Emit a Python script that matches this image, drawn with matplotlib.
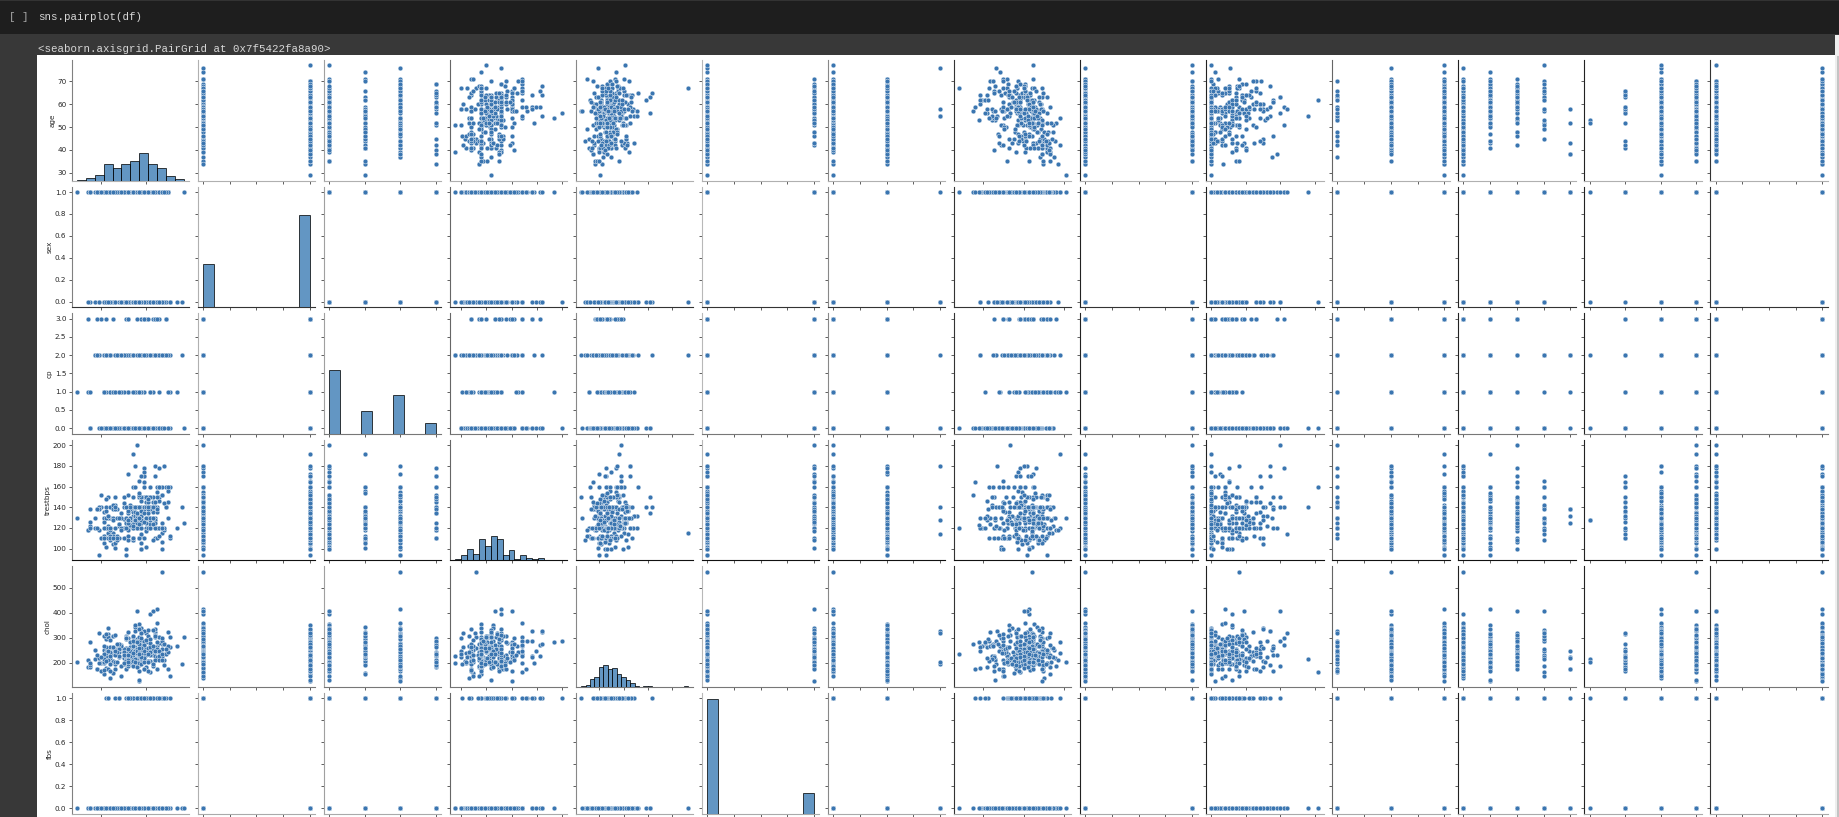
import numpy as np
import matplotlib
matplotlib.use("Agg")
import matplotlib.pyplot as plt
from matplotlib.patches import Rectangle

W, H = 1840, 817

age = [63,37,41,56,57,57,56,44,52,57,54,48,49,64,58,50,58,66,43,69,
       59,44,42,61,40,71,59,51,65,53,41,65,44,54,51,46,54,54,65,65,
       51,48,45,53,39,52,44,47,53,53,51,66,62,44,63,52,48,45,34,57,
       71,54,52,41,58,35,51,45,44,62,54,51,29,51,43,55,51,59,52,58,
       41,45,60,52,42,67,68,46,54,58,48,57,52,54,45,53,62,52,43,53,
       42,59,63,42,50,68,69,45,50,50,64,57,64,43,55,37,41,56,46,46,
       64,59,41,54,39,34,47,67,52,74,54,49,42,41,41,49,60,62,57,64,
       51,43,42,67,76,70,44,60,44,42,66,71,64,66,39,58,47,35,58,56,
       56,55,41,38,38,67,67,62,63,53,56,48,58,58,60,40,60,64,43,57,
       55,65,61,58,50,44,60,54,50,41,51,58,54,60,60,59,46,67,62,65,
       44,60,58,68,62,52,59,60,49,59,57,61,39,61,56,43,62,63,65,48,
       63,55,65,56,54,70,62,35,59,64,47,57,55,64,70,51,58,60,77,35,
       70,59,64,57,56,48,56,66,54,69,51,43,62,67,59,45,58,50,62,38,
       66,52,53,63,54,66,55,49,54,56,46,61,67,58,47,52,58,57,58,61,
       42,52,59,40,61,46,59,57,57,55,61,58,58,67,44,63,63,59,57,45,
       68,57,57]
sex = [1,1,0,1,0,1,0,1,1,1,1,0,1,1,0,0,0,0,1,0,
       1,1,1,1,1,0,1,1,0,1,0,1,1,1,1,0,0,1,0,0,
       0,1,1,0,1,1,1,1,0,0,0,1,1,0,0,1,1,1,1,0,
       0,1,1,1,1,0,1,0,1,0,1,1,1,1,0,0,1,1,1,1,
       1,1,0,1,0,0,1,1,0,0,1,1,1,0,0,1,0,1,1,1,
       1,1,0,1,1,0,1,0,0,0,0,1,0,1,1,0,1,1,0,0,
       0,1,0,0,0,0,1,0,0,0,0,0,1,1,0,0,0,1,1,1,
       0,1,0,0,0,1,0,0,1,1,1,0,1,0,0,0,1,1,1,1,
       1,0,1,1,1,1,1,0,1,1,1,1,1,1,1,1,1,1,1,1,
       1,0,0,1,1,1,1,1,1,1,0,1,1,1,1,1,1,1,1,1,
       1,1,1,1,0,1,1,0,1,1,1,1,1,0,1,0,0,1,1,1,
       0,1,1,0,1,1,1,1,1,1,1,1,1,1,1,1,1,1,1,1,
       1,0,1,1,1,1,0,1,1,1,1,1,0,1,1,1,1,1,0,1,
       0,1,1,0,1,1,0,1,1,1,1,1,1,1,1,1,1,1,0,1,
       1,1,1,1,1,1,1,1,1,0,1,1,0,1,1,1,0,1,0,1,
       1,1,0]
cp = [3,2,1,1,0,0,1,1,2,2,0,2,1,3,3,2,2,3,0,3,
      0,2,0,2,3,1,2,2,2,2,1,0,1,2,3,2,2,2,2,2,
      2,1,0,0,2,1,2,2,2,0,2,0,2,2,2,1,0,0,3,0,
      2,1,3,1,2,0,2,1,1,0,2,2,1,0,2,1,2,1,1,2,
      2,1,2,3,0,2,2,1,2,0,2,0,2,1,1,0,0,0,2,2,
      3,3,1,2,2,2,3,0,1,0,0,2,2,0,1,2,2,3,1,0,
      0,0,2,2,2,1,0,2,2,1,2,1,1,1,1,0,2,1,0,0,
      2,0,2,0,2,1,2,3,2,2,0,0,3,2,2,0,2,1,1,1,
      1,1,1,2,2,0,0,0,0,0,2,1,1,2,0,0,0,2,0,0,
      0,0,0,2,0,0,0,0,2,0,0,0,0,0,2,0,2,0,0,0,
      0,0,0,2,0,0,0,0,2,0,2,0,0,0,0,0,2,0,0,0,
      0,0,3,0,0,0,1,0,3,2,2,0,0,0,0,0,0,0,0,0,
      2,0,0,0,0,0,0,1,1,2,0,0,0,0,3,0,0,0,0,3,
      0,0,0,0,0,0,0,2,0,0,0,3,0,0,0,0,0,1,1,0,
      0,0,2,0,0,0,3,1,0,0,0,0,0,2,0,0,0,0,0,3,
      0,0,1]
trestbps = [145,130,130,120,120,140,140,120,172,150,140,130,130,110,150,120,120,150,150,140,
            135,130,140,150,140,160,150,110,140,130,105,120,130,125,125,142,135,150,155,160,
            140,130,104,130,140,120,140,138,128,138,130,120,130,108,135,134,122,115,118,128,
            110,108,118,135,140,138,100,130,120,124,120,94,130,140,122,135,125,140,128,105,
            112,128,102,152,102,115,118,101,110,100,124,132,138,132,112,142,140,108,130,130,
            148,178,140,120,129,120,160,138,120,110,180,150,140,110,130,120,130,120,105,138,
            130,138,112,108,94,118,112,152,136,120,160,134,120,110,126,130,120,128,110,128,
            120,115,120,106,140,156,118,150,120,130,160,112,170,146,138,130,130,122,125,130,
            120,132,120,138,138,160,120,140,130,140,130,110,120,132,130,110,117,140,120,150,
            132,150,130,112,150,112,130,124,140,110,130,128,120,145,140,170,150,125,120,110,
            110,125,150,180,160,128,110,150,120,140,128,120,118,145,125,132,130,130,135,130,
            150,140,138,200,110,145,120,120,170,125,108,165,160,120,130,140,125,140,125,126,
            160,174,145,152,132,124,134,160,192,140,140,132,138,100,160,142,128,144,150,120,
            178,112,123,108,110,112,180,118,122,130,120,134,120,100,110,125,146,124,136,138,
            136,128,126,152,140,140,134,154,110,128,148,114,170,152,120,140,124,164,140,110,
            144,130,130]
chol = [233,250,204,236,354,192,294,263,199,168,239,275,266,211,283,219,340,226,247,239,
        234,233,226,243,199,302,212,175,417,197,198,177,219,273,213,177,304,232,269,360,
        308,245,208,264,321,325,235,257,216,234,256,302,231,141,252,201,222,260,182,303,
        265,309,186,203,211,183,222,234,220,209,258,227,204,261,213,250,245,221,205,240,
        250,308,318,298,265,564,277,197,214,248,255,207,223,288,160,226,394,233,315,246,
        244,270,195,240,196,211,234,236,244,254,325,126,313,211,262,215,214,193,204,243,
        303,271,268,267,199,210,204,277,196,269,201,271,295,235,306,269,178,208,201,263,
        295,303,209,223,197,245,242,240,226,180,228,149,227,278,220,197,253,192,220,221,
        240,342,157,175,175,286,229,268,254,203,256,229,284,224,206,167,230,335,177,276,
        353,225,330,230,243,290,253,266,233,172,305,216,188,282,185,326,231,254,267,248,
        197,258,270,274,164,255,239,258,188,177,229,260,219,307,249,341,263,330,254,256,
        407,217,282,288,239,174,281,198,288,309,243,289,289,246,322,299,300,293,304,282,
        269,249,212,274,184,274,409,246,283,254,298,247,294,299,273,309,259,200,244,231,
        228,230,282,269,206,212,327,149,286,283,249,234,237,234,275,212,218,261,319,166,
        315,204,218,223,207,311,204,232,335,205,203,318,225,212,169,187,197,176,241,264,
        193,131,236]
fbs = [1,0,0,0,0,0,0,0,1,0,0,0,0,0,1,0,0,0,0,0,
       0,0,0,1,0,0,1,0,1,1,0,0,0,0,0,0,1,0,0,0,
       0,0,0,0,0,0,0,0,0,0,0,0,0,0,0,0,0,0,0,0,
       1,0,0,0,1,0,0,0,0,0,0,0,0,0,0,0,1,0,1,0,
       0,0,0,1,0,0,0,1,0,0,1,0,0,1,0,0,0,1,0,1,
       0,0,0,1,0,0,1,0,0,0,0,1,0,0,0,0,0,0,0,0,
       0,0,0,0,0,0,0,0,0,0,0,0,0,0,0,0,1,1,0,0,
       0,0,0,0,0,0,0,0,0,0,0,0,0,0,0,0,0,0,0,0,
       0,0,0,0,0,0,0,0,0,1,1,0,0,0,0,0,1,0,0,0,
       0,0,0,0,0,0,0,0,0,0,0,0,0,0,0,0,0,1,0,0,
       0,0,0,1,0,0,0,0,0,0,0,0,0,0,1,1,0,1,0,1,
       0,0,1,1,0,0,0,0,0,0,0,1,0,0,0,0,0,0,0,0,
       0,0,0,0,0,0,0,0,0,0,0,1,1,0,0,0,0,0,0,0,
       1,0,0,0,0,0,0,0,0,1,0,0,0,0,0,0,0,0,1,0,
       0,1,1,0,0,0,0,0,0,0,0,0,1,0,0,0,0,1,0,0,
       1,0,0]
restecg = [0,1,0,1,1,1,0,1,1,1,1,1,1,0,0,1,1,1,1,1,
           1,1,1,1,1,1,1,1,0,0,1,1,0,0,0,0,1,0,1,0,
           0,0,0,0,0,1,0,0,0,0,0,0,1,1,0,1,0,0,0,0,
           0,1,0,1,0,1,1,0,1,1,0,1,0,0,1,0,0,1,1,0,
           1,0,1,1,0,0,1,1,1,0,1,1,1,0,1,0,0,1,1,0,
           0,0,1,1,1,0,0,0,1,0,1,1,1,1,1,1,0,0,1,0,
           1,0,0,0,1,1,1,1,0,0,1,1,1,1,1,1,1,0,1,1,
           0,1,1,1,2,0,1,1,1,1,0,1,0,0,1,1,1,1,1,0,
           1,1,1,1,1,0,0,0,0,0,0,1,0,0,0,0,1,1,0,0,
           1,0,0,0,0,0,1,0,1,0,1,0,1,0,0,0,1,1,1,0,
           0,0,0,0,0,1,0,0,1,1,0,1,1,0,0,0,1,0,0,0,
           0,1,0,0,1,1,0,1,0,1,1,0,0,0,0,1,0,0,0,0,
           1,1,0,1,0,0,0,1,0,0,1,0,1,0,0,0,0,0,1,1,
           1,1,1,1,0,0,2,0,0,0,0,1,1,1,0,1,1,1,0,0,
           1,1,1,1,0,1,1,0,1,2,1,2,0,0,1,0,1,0,1,1,
           1,1,0]
thalach = [150,187,172,178,163,148,153,173,162,174,160,139,171,144,162,158,172,114,171,151,
           161,179,178,137,178,162,157,123,157,152,168,140,188,152,125,160,170,165,148,151,
           142,180,148,143,182,172,180,156,115,160,149,151,146,175,172,158,186,185,174,159,
           130,156,190,132,165,182,143,175,170,163,147,154,202,186,165,161,166,164,184,154,
           179,170,160,178,122,160,151,156,158,122,175,168,169,159,138,111,157,147,162,173,
           178,145,179,194,163,115,131,152,162,159,154,173,133,161,155,170,168,162,172,152,
           122,182,172,167,179,192,143,172,169,121,163,162,162,153,163,163,96,140,126,105,
           157,181,173,142,116,143,149,171,169,150,138,125,155,152,152,131,179,174,144,163,
           169,166,182,173,173,108,129,160,147,155,142,168,160,173,132,114,160,158,120,112,
           132,114,169,165,128,153,144,109,163,158,142,131,113,142,155,140,147,163,99,158,
           177,141,111,150,145,161,142,157,139,162,150,140,140,146,144,136,97,132,127,150,
           154,111,174,133,126,125,103,130,159,131,152,124,145,96,109,173,171,170,162,156,
           112,143,132,88,105,166,150,120,195,146,122,143,106,125,125,147,130,126,154,182,
           165,160,95,169,108,132,117,126,116,103,144,145,71,156,118,168,105,141,152,125,
           125,156,134,181,138,120,162,164,143,130,161,140,146,150,144,144,136,90,123,132,
           141,115,174]
exang = [0,0,0,0,1,0,0,0,0,0,0,0,0,1,0,0,0,0,0,0,
         0,1,0,1,1,0,0,0,0,0,0,0,0,0,1,1,0,0,0,0,
         0,0,1,0,0,0,0,0,0,0,0,0,0,0,0,0,0,0,0,0,
         0,0,0,0,0,0,1,0,0,0,0,1,0,1,0,0,0,1,0,1,
         0,0,0,0,0,0,0,0,0,0,0,1,0,1,0,1,0,0,0,0,
         0,0,0,0,0,0,0,1,0,0,1,0,0,0,0,0,0,0,0,1,
         0,0,1,0,0,0,0,0,0,1,0,0,0,0,0,0,0,0,1,1,
         0,0,0,0,0,0,0,0,0,0,0,0,0,0,0,0,0,0,0,0,
         0,0,0,0,0,1,1,0,0,1,1,0,0,0,1,1,1,0,1,1,
         1,0,0,0,0,0,1,1,0,0,1,1,0,1,0,1,0,0,1,0,
         0,1,1,1,0,1,1,0,0,1,0,1,0,1,1,1,0,1,0,1,
         0,1,0,1,1,1,0,1,0,1,0,0,1,1,0,1,0,0,1,1,
         1,1,0,1,1,0,1,1,0,0,1,1,0,1,0,1,1,1,1,1,
         1,0,1,1,1,1,1,0,1,1,0,0,0,0,1,0,0,0,0,1,
         1,1,0,0,1,1,0,0,1,1,0,0,1,0,1,1,1,0,1,0,
         0,1,0]
oldpeak = [2.3,3.5,1.4,0.8,0.6,0.4,1.3,0,0.5,1.6,1.2,0.2,0.6,1.8,1,1.6,0,2.6,1.5,1.8,
           0.5,0.4,0,1,1.4,0.4,1.6,0.6,0.8,1.2,0,0.4,0,0.5,1.4,1.4,0,1.6,0.8,0.8,
           1.5,0.2,3,0.4,0,0.2,0,0,0,0,0.5,0.4,1.8,0.6,0,0.8,0,0,0,0,
           0,0,0,0,0,1.4,1.2,0.6,0,0,0.4,0,0,0,0.2,1.4,2.4,0,0,0.6,
           0,0,0,1.2,0.6,1.6,1,0,1.6,1,0,0,0,0,0,0,1.2,0.1,1.9,0,
           0.8,4.2,0,0.8,0,1.5,0.1,0.2,1.1,0,0,0.2,0.2,0,0,0,2,1.9,0,0,
           2,0,0,0,0,0.7,0.1,0,0.1,0.2,0,0,0,0,0,0,0,0,1.5,0.2,
           0.6,1.2,0,0.3,1.1,0,0.3,0.9,0,0,2.3,1.6,0.6,0,0,0.6,0,0,0.4,0,
           0,1.2,0,0,0,1.5,2.6,3.6,1.4,3.1,0.6,1,1.8,3.2,2.4,2,1.4,0,2.5,0.6,
           1.2,1,0,2.5,2.6,0,1.4,2.2,0.6,0,1.2,2.2,1.4,2.8,3,3.4,3.6,0.2,1.8,0.6,
           0,2.8,0.8,1.6,6.2,0,1.2,2.6,2,0,0.4,3.6,1.2,1,1.2,3,1.2,1.8,2.8,0,
           4,5.6,1.4,4,2.8,2.6,1.4,1.6,0.2,1.8,0,1,0.8,2.2,2.4,1.6,0,1.2,0,0,
           2.9,0,2,1.2,2.1,0.5,1.9,0,0,2,4.2,0.1,1.9,0.9,0,0,3,0.9,1.4,3.8,
           1,0,2,1.8,0,0.1,3.4,0.8,3.2,1.6,0.8,2.6,1,0.1,1,1,2,0.3,0,3.6,
           1.8,1,2.2,0,1.9,1.8,0.8,0,3,2,0,4.4,2.8,0.8,2.8,4,0,1,0.2,1.2,
           3.4,1.2,0]
slope = [0,0,2,2,2,1,1,2,2,2,2,2,2,1,2,1,2,0,2,2,
         1,2,2,1,2,2,2,2,2,0,2,2,2,0,2,0,2,2,2,2,
         2,1,1,1,2,2,2,2,2,2,2,1,1,1,2,2,2,2,2,2,
         2,2,1,1,2,2,1,1,2,2,1,2,2,2,1,1,1,2,2,1,
         2,2,2,1,1,1,2,2,1,1,2,2,2,2,1,2,1,2,2,2,
         2,0,2,0,2,1,1,1,2,2,2,2,2,2,2,2,1,1,2,1,
         1,2,2,2,2,2,2,2,1,2,2,1,2,2,2,2,2,2,1,1,
         2,1,1,2,1,2,1,2,2,2,2,1,1,1,1,1,2,2,1,2,
         0,2,2,2,2,1,1,0,1,0,1,0,1,2,1,1,2,2,1,1,
         1,1,2,1,1,2,2,1,1,2,1,1,1,1,1,0,1,1,1,2,
         2,1,2,1,0,2,1,1,1,2,1,1,1,1,1,1,1,2,1,2,
         1,0,1,0,1,0,1,1,1,1,2,1,1,0,1,2,2,1,2,2,
         1,1,1,1,1,1,1,1,2,1,1,1,1,1,2,1,1,1,1,1,
         1,2,1,1,1,2,1,2,1,0,2,1,1,2,1,2,1,2,2,1,
         1,1,1,2,2,1,2,2,1,1,2,0,1,1,0,2,1,1,1,1,
         1,1,1]
ca = [0,0,0,0,0,0,0,0,0,0,0,0,0,0,0,0,0,0,0,2,
      0,0,0,0,0,2,0,0,1,0,1,0,0,1,1,0,0,0,0,0,
      1,0,0,0,0,0,0,0,0,0,0,0,3,0,0,1,0,0,0,1,
      1,0,0,0,0,0,0,0,0,0,0,1,0,0,0,0,0,0,0,0,
      0,0,1,0,0,0,1,0,0,0,2,0,4,1,0,0,0,3,1,3,
      2,0,2,0,0,0,1,0,0,0,0,1,0,0,0,0,0,0,0,0,
      2,0,0,0,0,0,0,1,0,1,1,0,0,0,0,0,0,0,0,1,
      0,0,0,2,0,0,1,0,0,0,0,0,0,1,0,0,0,0,4,0,
      0,0,0,4,4,3,2,2,1,0,1,0,0,2,2,0,2,0,0,1,
      1,3,0,1,0,1,1,1,1,0,0,3,1,2,0,0,0,2,2,2,
      1,1,0,0,3,1,1,2,3,1,1,1,0,0,1,0,1,3,1,2,
      3,0,1,2,1,0,1,0,0,0,0,3,1,1,3,0,2,2,3,0,
      1,0,2,1,1,0,2,3,1,3,3,4,3,2,0,3,2,0,0,0,
      2,1,2,2,1,1,0,3,2,0,0,2,0,1,1,2,1,0,2,1,
      0,0,1,0,1,2,2,1,1,1,1,3,2,0,0,2,0,2,0,0,
      2,1,1]
thal = [1,2,2,2,2,1,2,3,3,2,2,2,2,2,2,2,2,2,2,2,
        3,2,2,2,3,2,2,2,2,2,2,3,2,2,2,2,2,3,2,2,
        2,2,2,2,2,2,2,2,0,2,2,2,3,2,2,2,2,2,2,2,
        2,3,1,1,2,2,2,2,2,2,3,3,2,2,2,2,2,2,2,3,
        2,2,2,3,2,3,3,3,2,2,2,3,2,2,2,3,2,3,2,2,
        2,3,2,3,2,2,2,2,2,2,2,3,3,3,2,2,2,3,2,2,
        2,2,2,2,2,2,2,2,2,2,2,2,2,2,2,2,2,2,1,3,
        2,2,2,2,2,2,2,2,2,2,1,2,3,2,2,2,2,2,3,3,
        2,2,2,2,2,2,3,2,3,3,1,3,2,3,3,3,3,2,3,1,
        3,3,2,3,3,2,3,3,3,3,3,3,3,3,2,3,2,3,3,1,
        2,3,3,3,3,3,3,3,3,3,3,3,3,3,2,3,3,3,3,3,
        3,3,2,3,3,3,3,3,3,3,2,3,3,2,2,3,3,3,2,3,
        3,2,1,3,1,3,3,1,3,3,3,3,2,2,2,3,3,3,2,3,
        3,2,3,2,2,2,2,2,2,3,3,2,2,3,2,3,3,3,2,2,
        1,0,1,3,3,3,2,2,3,3,3,1,1,3,1,3,2,1,3,3,
        3,3,2]
target = [1,1,1,1,1,1,1,1,1,1,1,1,1,1,1,1,1,1,1,1,
          1,1,1,1,1,1,1,1,1,1,1,1,1,1,1,1,1,1,1,1,
          1,1,1,1,1,1,1,1,1,1,1,1,1,1,1,1,1,1,1,1,
          1,1,1,1,1,1,1,1,1,1,1,1,1,1,1,1,1,1,1,1,
          1,1,1,1,1,1,1,1,1,1,1,1,1,1,1,1,1,1,1,1,
          1,1,1,1,1,1,1,1,1,1,1,1,1,1,1,1,1,1,1,1,
          1,1,1,1,1,1,1,1,1,1,1,1,1,1,1,1,1,1,1,1,
          1,1,1,1,1,1,1,1,1,1,1,1,1,1,1,1,1,1,1,1,
          1,1,1,1,1,0,0,0,0,0,0,0,0,0,0,0,0,0,0,0,
          0,0,0,0,0,0,0,0,0,0,0,0,0,0,0,0,0,0,0,0,
          0,0,0,0,0,0,0,0,0,0,0,0,0,0,0,0,0,0,0,0,
          0,0,0,0,0,0,0,0,0,0,0,0,0,0,0,0,0,0,0,0,
          0,0,0,0,0,0,0,0,0,0,0,0,0,0,0,0,0,0,0,0,
          0,0,0,0,0,0,0,0,0,0,0,0,0,0,0,0,0,0,0,0,
          0,0,0,0,0,0,0,0,0,0,0,0,0,0,0,0,0,0,0,0,
          0,0,0]

col_names = ["age", "sex", "cp", "trestbps", "chol", "fbs", "restecg", "thalach",
             "exang", "oldpeak", "slope", "ca", "thal", "target"]
columns = [age, sex, cp, trestbps, chol, fbs, restecg, thalach,
           exang, oldpeak, slope, ca, thal, target]

x_ticks = [[40, 60], [0, 0.25, 0.5, 0.75, 1], [0, 1, 2, 3], [100, 125, 150, 175, 200],
           [200, 300, 400, 500], [0, 0.25, 0.5, 0.75, 1], [0, 0.5, 1, 1.5, 2],
           [100, 150, 200], [0, 0.25, 0.5, 0.75, 1], [0, 2, 4, 6], [0, 0.5, 1, 1.5, 2],
           [0, 1, 2, 3, 4], [0, 1, 2, 3], [0, 0.25, 0.5, 0.75, 1]]
y_ticks = [[30, 40, 50, 60, 70], [0.0, 0.2, 0.4, 0.6, 0.8, 1.0],
           [0.0, 0.5, 1.0, 1.5, 2.0, 2.5, 3.0], [100, 120, 140, 160, 180, 200],
           [200, 300, 400, 500], [0.0, 0.2, 0.4, 0.6, 0.8, 1.0]]
# fbs has no spread, "auto" goes far too fine there
diag_bins = ["auto", "auto", "auto", "auto", "auto", 10]

# the resampled screenshot leaves the thin lines darker or lighter per row/column
left_spine = ["#808080", "#b0b0b0", "#a0a0a0", "#666666", "#888888", "#b8b8b8", "#888888",
              "#333333", "#222222", "#222222", "#666666", "#222222", "#222222", "#333333"]
bottom_spine = ["#b0b0b0", "#333333", "#777777", "#111111", "#777777", "#aaaaaa"]

DOT = "#3a75b0"
BAR = "#2f73af"


def px(x, y, w, h):
    # pixel box with origin top left -> figure fraction
    return [x / W, 1 - (y + h) / H, w / W, h / H]


def pad(values):
    lo, hi = min(values), max(values)
    m = (hi - lo) * 0.05
    return lo - m, hi + m


fig = plt.figure(figsize=(W / 100, H / 100), dpi=100, facecolor="#383838")

# notebook cell around the plot
for box, color in [((0, 0, W, 34), "#1e1e1e"), ((0, 0, W, 1), "#333333"),
                   ((1835, 35, 5, H - 35), "#eeeeee"), ((1837, 56, 3, H - 56), "#c4c4c4"),
                   ((37, 55, 1798, H - 55), "white")]:
    fig.add_artist(Rectangle((box[0] / W, 1 - (box[1] + box[3]) / H), box[2] / W, box[3] / H,
                             transform=fig.transFigure, facecolor=color, edgecolor="none",
                             zorder=-1))

fig.text(9 / W, 1 - 17.5 / H, "[ ]", family="Liberation Mono", fontsize=7.75,
         color="#a8a8a8", va="center")
fig.text(38 / W, 1 - 17.5 / H, "sns.pairplot(df)", family="Liberation Mono", fontsize=7.75,
         color="#d8d8d8", va="center")
fig.text(38 / W, 1 - 48.5 / H, "<seaborn.axisgrid.PairGrid at 0x7f5422fa8a90>",
         family="Liberation Mono", fontsize=7.75, color="#d8d8d8", va="center")

for r in range(6):
    for c in range(14):
        ax = fig.add_axes(px(71.6 + c * 126.05, 60 + r * 126.6, 117.5, 120.5))
        ax.patch.set_alpha(0)
        ax.spines["top"].set_visible(False)
        ax.spines["right"].set_visible(False)
        ax.spines["left"].set_color(left_spine[c])
        ax.spines["bottom"].set_color(bottom_spine[r])
        ax.spines["left"].set_linewidth(0.8)
        ax.spines["bottom"].set_linewidth(0.8)

        if r == c:
            diag = ax.twinx()
            # as floats, numpy would otherwise force whole-number bins on the 0/1 columns
            diag.hist(np.array(columns[c], dtype=float), bins=diag_bins[c], color=BAR, alpha=0.75,
                      edgecolor="black", linewidth=0.7)
            diag.set_xlim(pad(columns[c]))
            diag.set_ylim(0, 271)
            diag.axis("off")
        else:
            ax.scatter(columns[c], columns[r], s=12, color=DOT, edgecolor="white", linewidth=0.3)

        ax.set_xlim(pad(columns[c]))
        ax.set_ylim(pad(columns[r]))
        ax.set_xticks(x_ticks[c])
        ax.set_yticks(y_ticks[r])
        ax.tick_params(length=2.2, width=0.6, color="#444444", labelbottom=False,
                       labelleft=(c == 0), labelsize=5.2, labelcolor="#262626", pad=1.5)
        if c == 0:
            ax.set_yticklabels([str(v) for v in y_ticks[r]])
            ax.set_ylabel(col_names[r], fontsize=5.2, color="#262626", labelpad=1.5)

fig.savefig("out.png", dpi=100, facecolor=fig.get_facecolor())
